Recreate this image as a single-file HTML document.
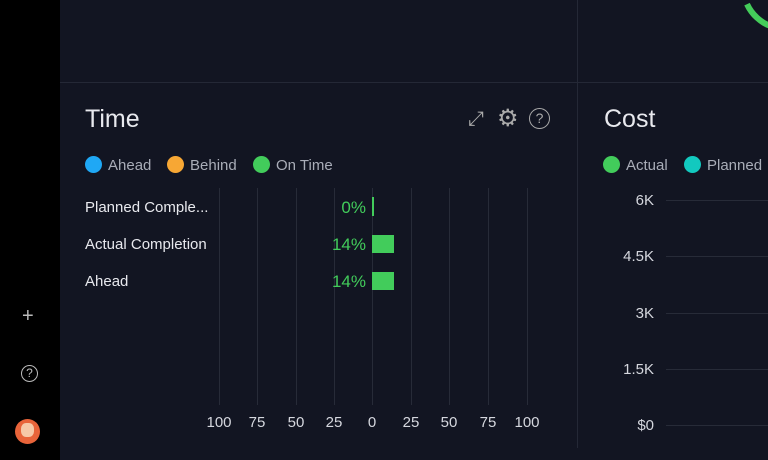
<!DOCTYPE html>
<html><head><style>
body{margin:0;width:768px;height:460px;background:#121522;position:relative;overflow:hidden;font-family:"Liberation Sans",sans-serif;color:#e8e9ee}
.a{position:absolute;white-space:nowrap}
.g{position:absolute;top:188px;height:217px;width:1px;background:#272b38}
.dot{display:inline-block;width:17px;height:17px;border-radius:50%;vertical-align:-3px;margin-right:6px}
.leg{font-size:15px;color:#a9adb8}
.lbl{font-size:15px;color:#e8e9ee}
.tk{font-size:15px;color:#d5d7de;width:40px;text-align:center;top:414px}
.yl{font-size:15px;color:#d5d7de;width:50px;text-align:right;left:604px}
.hl{position:absolute;left:666px;width:102px;height:1px;background:#272b38}
</style></head><body>
<div class="a" style="left:0;top:0;width:60px;height:460px;background:#000"></div>
<div class="a" style="left:60px;top:82px;width:708px;height:1px;background:#242836"></div>
<div class="a" style="left:577px;top:0;width:1px;height:448px;background:#242836"></div>
<div class="a" style="left:740px;top:-60px;width:80px;height:80px;border-radius:50%;border:6px solid #44cc5a;border-color:transparent transparent #44cc5a transparent;transform:rotate(20deg)"></div>
<div class="a" style="left:22px;top:305px;font-size:20px;color:#bbb">+</div>
<div class="a" style="left:21px;top:365px;width:15px;height:15px;border:1.5px solid #bbb;border-radius:50%;font-size:12px;text-align:center;line-height:15px;color:#bbb">?</div>
<div class="a" style="left:15px;top:419px;width:25px;height:25px;border-radius:50%;background:#e8643a"></div>
<div class="a" style="left:21px;top:423px;width:13px;height:14px;border-radius:40%;background:#f6c9a8"></div>
<div class="a" style="left:85px;top:105px;font-size:25px">Time</div>
<div class="a" style="left:604px;top:105px;font-size:25px">Cost</div>
<div class="a" style="left:468px;top:108px;font-size:20px;color:#aaa">⤢</div>
<div class="a" style="left:497px;top:104px;font-size:24px;color:#aaa">⚙</div>
<div class="a" style="left:529px;top:108px;width:19px;height:19px;border:1.5px solid #aaa;border-radius:50%;font-size:14px;text-align:center;line-height:19px;color:#aaa">?</div>
<div class="a leg" style="left:85px;top:156px"><span class="dot" style="background:#1fa8f5"></span>Ahead</div>
<div class="a leg" style="left:167px;top:156px"><span class="dot" style="background:#f7a734"></span>Behind</div>
<div class="a leg" style="left:253px;top:156px"><span class="dot" style="background:#42cc5b"></span>On Time</div>
<div class="a leg" style="left:603px;top:156px"><span class="dot" style="background:#42cc5b"></span>Actual</div>
<div class="a leg" style="left:684px;top:156px"><span class="dot" style="background:#12c9bf"></span>Planned</div>
<div class="g" style="left:219px"></div><div class="g" style="left:257px"></div><div class="g" style="left:296px"></div><div class="g" style="left:334px"></div><div class="g" style="left:372px"></div><div class="g" style="left:411px"></div><div class="g" style="left:449px"></div><div class="g" style="left:488px"></div><div class="g" style="left:527px"></div>
<div class="a lbl" style="left:85px;top:199px">Planned Comple...</div>
<div class="a lbl" style="left:85px;top:236px">Actual Completion</div>
<div class="a lbl" style="left:85px;top:273px">Ahead</div>
<div class="a" style="left:372px;top:197px;width:2px;height:19px;background:#42cc5b"></div>
<div class="a" style="left:372px;top:235px;width:22px;height:18px;background:#42cc5b"></div>
<div class="a" style="left:372px;top:272px;width:22px;height:18px;background:#42cc5b"></div>
<div class="a" style="left:300px;width:66px;text-align:right;top:198px;font-size:17px;color:#42cc5b">0%</div>
<div class="a" style="left:300px;width:66px;text-align:right;top:235px;font-size:17px;color:#42cc5b">14%</div>
<div class="a" style="left:300px;width:66px;text-align:right;top:272px;font-size:17px;color:#42cc5b">14%</div>
<div class="a tk" style="left:199px">100</div><div class="a tk" style="left:237px">75</div><div class="a tk" style="left:276px">50</div><div class="a tk" style="left:314px">25</div><div class="a tk" style="left:352px">0</div><div class="a tk" style="left:391px">25</div><div class="a tk" style="left:429px">50</div><div class="a tk" style="left:468px">75</div><div class="a tk" style="left:507px">100</div>
<div class="a yl" style="top:192px">6K</div><div class="hl" style="top:200px"></div>
<div class="a yl" style="top:248px">4.5K</div><div class="hl" style="top:256px"></div>
<div class="a yl" style="top:305px">3K</div><div class="hl" style="top:313px"></div>
<div class="a yl" style="top:361px">1.5K</div><div class="hl" style="top:369px"></div>
<div class="a yl" style="top:417px">$0</div><div class="hl" style="top:425px"></div>
</body></html>
